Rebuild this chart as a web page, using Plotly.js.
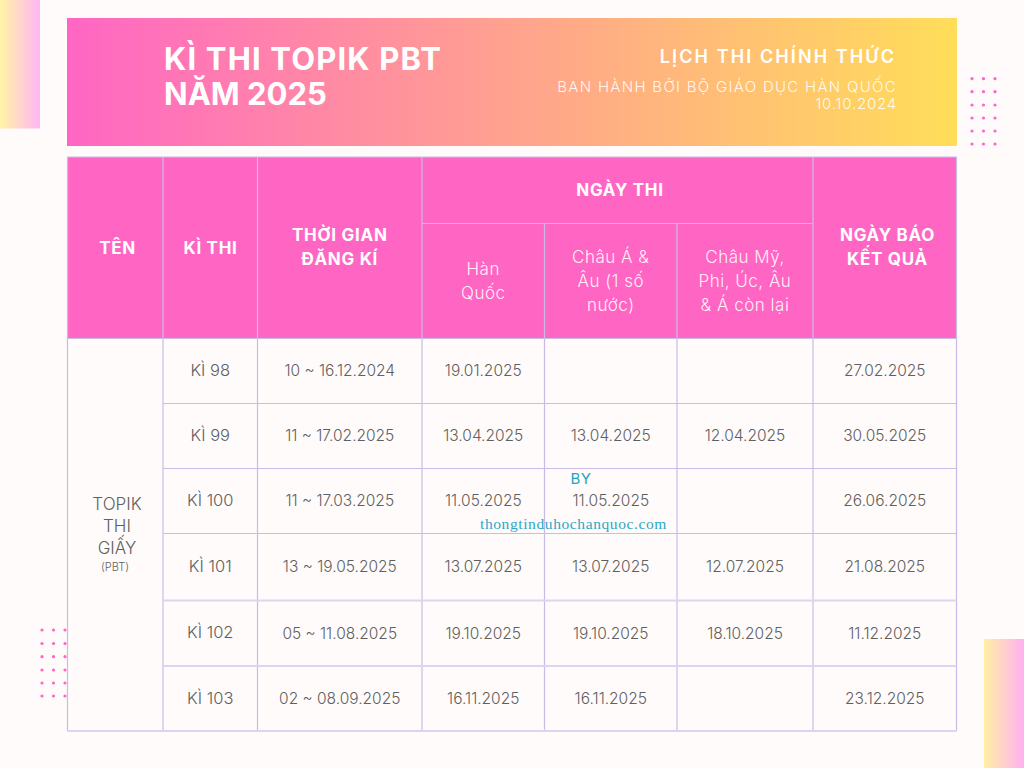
<!DOCTYPE html>
<html><head><meta charset="utf-8">
<script src="https://cdn.plot.ly/plotly-3.0.1.min.js"></script>
<style>html,body{margin:0;padding:0;background:#FFFBFA}#c{width:1024px;height:768px}</style>
</head><body><div id="c"></div>
<script>
const titleLines = ["KÌ THI TOPIK PBT", "NĂM 2025"];
const subTitle = "LỊCH THI CHÍNH THỨC";
const issuedLines = ["BAN HÀNH BỞI BỘ GIÁO DỤC HÀN QUỐC", "10.10.2024"];
const mainHeaders = ["TÊN", "KÌ THI", "THỜI GIAN\nĐĂNG KÍ", "NGÀY THI", "NGÀY BÁO\nKẾT QUẢ"];
const subHeaders = ["Hàn\nQuốc", "Châu Á &\nÂu (1 số\nnước)", "Châu Mỹ,\nPhi, Úc, Âu\n& Á còn lại"];
const examName = "TOPIK\nTHI\nGIẤY";
const examNote = "(PBT)";
const sessions = ["KÌ 98","KÌ 99","KÌ 100","KÌ 101","KÌ 102","KÌ 103"];
const registration = ["10 ~ 16.12.2024","11 ~ 17.02.2025","11 ~ 17.03.2025","13 ~ 19.05.2025","05 ~ 11.08.2025","02 ~ 08.09.2025"];
const korea = ["19.01.2025","13.04.2025","11.05.2025","13.07.2025","19.10.2025","16.11.2025"];
const asiaEurope = ["","13.04.2025","11.05.2025","13.07.2025","19.10.2025","16.11.2025"];
const america = ["","12.04.2025","","12.07.2025","18.10.2025",""];
const results = ["27.02.2025","30.05.2025","26.06.2025","21.08.2025","11.12.2025","23.12.2025"];
const watermarkBy = "BY";
const watermarkSite = "thongtinduhochanquoc.com";

const colEdges = [67.5,163,257.5,422,544.5,677,813,956.5];
const rowEdges = [338.5,403.5,468.5,533.5,600.5,666,731];
const tableTop = 157, subTop = 223.5, headBottom = 338.5;

const PINK="#FF66C4", YEL="#FFDE59", GRID="#C8BCE6", GRID2="#DCD5F0", INK="#606060";
const FONT="Inter, 'Noto Sans', sans-serif";
const TEXT_DY=2;
const traces=[], spacing=[];

function rect(x0,x1,y0,y1,extra){
  traces.push(Object.assign({type:'scatter',mode:'none',x:[x0,x1,x1,x0,x0],y:[y0,y0,y1,y1,y0],fill:'toself'},extra));
  spacing.push(null);
}
function lines(segs,color,width){
  const x=[],y=[];
  segs.forEach(s=>{x.push(s[0],s[2],null);y.push(s[1],s[3],null);});
  traces.push({type:'scatter',mode:'lines',x,y,line:{color,width}});
  spacing.push(null);
}
function label(items,lineGap,pos,font,ls){
  const x=[],y=[],t=[];
  items.forEach(it=>{
    const parts=it[2].split("\n");
    parts.forEach((p,i)=>{ if(!p)return; x.push(it[0]); y.push(it[1]+TEXT_DY+(i-(parts.length-1)/2)*lineGap); t.push(p); });
  });
  traces.push({type:'scatter',mode:'text',x,y,text:t,textposition:pos,cliponaxis:false,textfont:Object.assign({family:FONT},font)});
  spacing.push(ls||null);
}
const mid=(a,b)=>(a+b)/2;

/* decorative gradient bars */
rect(0,40,0,128.5,{fillgradient:{type:'horizontal',colorscale:[[0,'#FFF4A6'],[1,'#FFB6F4']]}});
rect(984,1024,639,768,{fillgradient:{type:'horizontal',colorscale:[[0,'#FFF0A6'],[1,'#FFB0F2']]}});
/* banner */
rect(67,957,18,146,{fillgradient:{type:'horizontal',colorscale:[[0,PINK],[1,YEL]]}});
/* dots */
const dotXr=[972,983.5,995], dotXl=[42,53.5,65], dotYr=[78.7,91.7,105,118,131,144], dotYl=[630,643.5,656.7,670,683,696];
[[dotXr,dotYr],[dotXl,dotYl]].forEach(g=>{
  const x=[],y=[]; g[1].forEach(b=>g[0].forEach(a=>{x.push(a);y.push(b);}));
  traces.push({type:'scatter',mode:'markers',x,y,marker:{color:'#FF66C4',size:3.2,line:{width:0}}}); spacing.push(null);
});
/* table header + grid */
rect(colEdges[0],colEdges[7],tableTop,headBottom,{fillcolor:PINK});
const vertical=colEdges.map((c,i)=>[c,(i==4||i==5)?subTop:tableTop,c,rowEdges[6]]);
lines(vertical,GRID,1.2);
lines([[colEdges[0],tableTop,colEdges[7],tableTop],[colEdges[3],subTop,colEdges[6],subTop],[colEdges[0],headBottom,colEdges[7],headBottom],
       ...rowEdges.slice(1,4).map(r=>[colEdges[1],r,colEdges[7],r])],GRID,1.2);
lines(rowEdges.slice(4).map((r,i)=>[i==2?colEdges[0]:colEdges[1],r,colEdges[7],r]),GRID2,2);

/* text */
label([[164,60,titleLines[0]]],0,'middle right',{size:31,color:'#fff',weight:700},1.15);
label([[164,95,titleLines[1]]],0,'middle right',{size:31,color:'#fff',weight:700});
label([[896,56,subTitle]],0,'middle left',{size:18,color:'#fff',weight:600},2.1);
label([[897,86,issuedLines[0]]],0,'middle left',{size:15,color:'rgba(255,255,255,0.9)',weight:300},1.3);
label([[897,103,issuedLines[1]]],0,'middle left',{size:15,color:'rgba(255,255,255,0.9)',weight:300},0.8);
const colMid=i=>mid(colEdges[i],colEdges[i+1]);
label([[117.5,248,mainHeaders[0]],[210.5,248,mainHeaders[1]],[colMid(2),247,mainHeaders[2]],[620,190,mainHeaders[3]],[887.5,247,mainHeaders[4]]],24,'middle center',{size:17,color:'#fff',weight:700},0.7);
label(subHeaders.map((s,i)=>[colMid(3+i),281,s]),24,'middle center',{size:17,color:'rgba(255,255,255,0.92)',weight:300},0.5);
label([[117,526,examName]],22,'middle center',{size:17,color:INK,weight:300});
label([[115,566,examNote]],0,'middle center',{size:11,color:INK,weight:300});
const colsA=[registration,korea,asiaEurope,america,results];
const cells=[];
colsA.forEach((col,c)=>col.forEach((v,r)=>{ if(v) cells.push([colMid(c+2),mid(rowEdges[r],rowEdges[r+1])-0.5,v]); }));
label(sessions.map((v,r)=>[colMid(1),mid(rowEdges[r],rowEdges[r+1])-1,v]),0,'middle center',{size:16.5,color:INK,weight:300});
label(cells,0,'middle center',{size:15.5,color:INK,weight:300});
label([[581,478,watermarkBy]],0,'middle center',{size:15,color:'#1FA3C0',weight:400},0.5);
label([[573.5,523,watermarkSite]],0,'middle center',{size:15.5,color:'#2AA8C6',family:"'Liberation Serif', serif"},0.6);

Plotly.newPlot('c',traces,{
  width:1024,height:768,margin:{l:0,r:0,t:0,b:0},showlegend:false,hovermode:false,
  paper_bgcolor:'#FFFBFA',plot_bgcolor:'#FFFBFA',
  xaxis:{range:[0,1024],visible:false,fixedrange:true},
  yaxis:{range:[768,0],visible:false,fixedrange:true}
},{staticPlot:true,displayModeBar:false}).then(()=>{
  const groups=document.querySelectorAll('.scatterlayer .trace');
  groups.forEach((g,i)=>{ if(spacing[i]) g.querySelectorAll('text').forEach(t=>t.style.letterSpacing=spacing[i]+'px'); });
});
</script></body></html>
